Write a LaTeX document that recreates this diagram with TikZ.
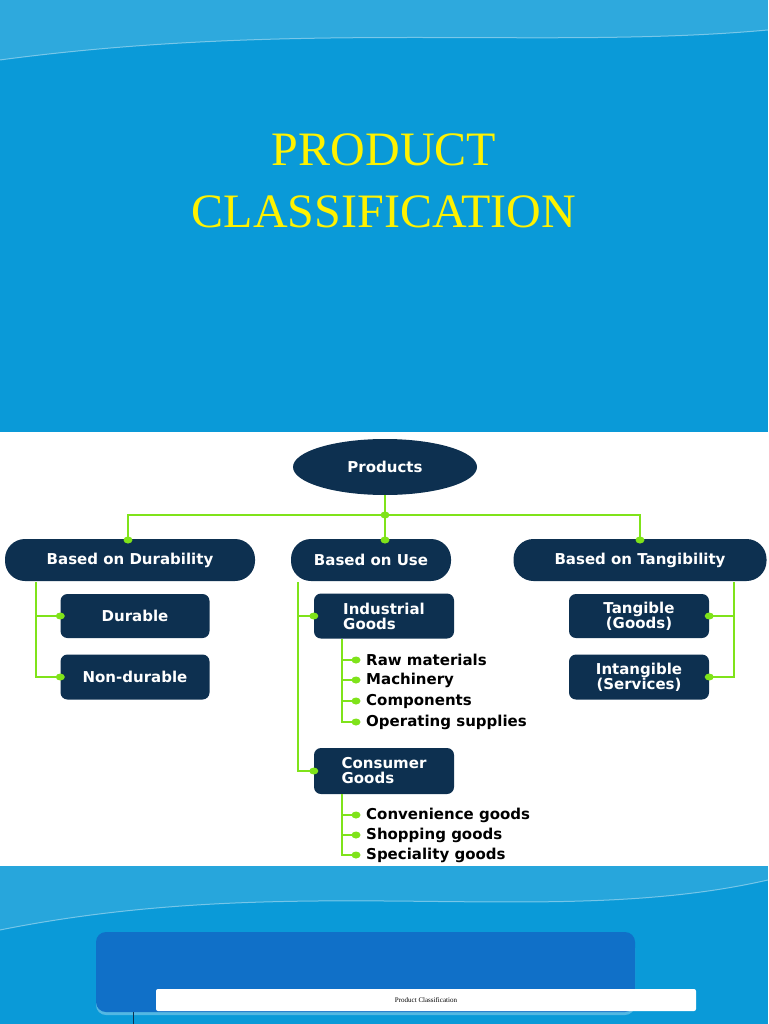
\documentclass[tikz,border=0pt]{standalone}
\usepackage{fontspec}
\setmainfont{Liberation Serif}
\newfontfamily\dia{DejaVu Sans}
\usetikzlibrary{shapes.geometric}
\definecolor{bgblue}{HTML}{0A9AD8}
\definecolor{navy}{HTML}{0D3050}
\definecolor{lgreen}{HTML}{7FE31A}
\definecolor{boxblue}{HTML}{1070C8}
\begin{document}
\begin{tikzpicture}[x=1pt,y=-1pt,
  pill/.style={fill=navy,rounded corners=20pt,text=white,font=\dia\bfseries\fontsize{15}{15}\selectfont,inner sep=0pt},
  sbox/.style={fill=navy,rounded corners=7pt,text=white,font=\dia\bfseries\fontsize{15}{15}\selectfont,inner sep=0pt,align=center},
  item/.style={anchor=west,font=\dia\bfseries\fontsize{15}{16}\selectfont,inner sep=0pt},
  gl/.style={draw=lgreen,line width=2.5pt},
  dot/.style={fill=lgreen,ellipse,minimum width=9pt,minimum height=7pt,inner sep=0pt}]
\useasboundingbox (0,0) rectangle (768,1024);
\fill[bgblue] (0,0) rectangle (768,432);
\fill[white] (0,432) rectangle (768,866);
\fill[bgblue] (0,866) rectangle (768,1024);
% waves
\fill[white,opacity=0.15] (0,0) -- (768,0) -- (768,30) .. controls (550,50) and (300,20) .. (0,60) -- cycle;
\draw[white,opacity=0.4,line width=1pt] (0,60) .. controls (300,20) and (550,50) .. (768,30);
\fill[white,opacity=0.12] (0,866) -- (768,866) -- (768,880) .. controls (550,930) and (300,870) .. (0,930) -- cycle;
\draw[white,opacity=0.4,line width=1pt] (0,930) .. controls (300,870) and (550,930) .. (768,880);
% title
\node[text=yellow,font=\fontsize{48}{62}\selectfont,align=center] (title) at (384,181) {PRODUCT\\CLASSIFICATION};
% tree
\node[fill=navy,ellipse,minimum width=184pt,minimum height=56pt,text=white,font=\dia\bfseries\fontsize{15}{15}\selectfont] (prod) at (385,467) {Products};
\node[pill,minimum width=250pt,minimum height=42pt] (dur) at (130,560) {Based on Durability};
\node[pill,minimum width=160pt,minimum height=42pt] (use) at (371,560) {Based on Use};
\node[pill,minimum width=253pt,minimum height=42pt] (tan) at (640,560) {Based on Tangibility};
\coordinate (j) at (385,515);
\draw[gl] (prod.south) -- (j) -- (385,540);
\draw[gl] (128,540) -- (128,515) -- (640,515) -- (640,540);
\node[dot] at (385,515) {}; \node[dot] at (385,540) {}; \node[dot] at (128,540) {}; \node[dot] at (640,540) {};
\node[sbox,minimum width=149pt,minimum height=44pt] (d1) at (135,616) {Durable};
\node[sbox,minimum width=149pt,minimum height=45pt] (d2) at (135,677) {Non-durable};
\node[sbox,minimum width=140pt,minimum height=45pt,align=left] (ig) at (384,616) {Industrial\\Goods};
\node[sbox,minimum width=140pt,minimum height=46pt,align=left] (cg) at (384,771) {Consumer\\Goods};
\node[sbox,minimum width=140pt,minimum height=44pt] (t1) at (639,616) {Tangible\\(Goods)};
\node[sbox,minimum width=140pt,minimum height=45pt] (t2) at (639,677) {Intangible\\(Services)};
\draw[gl] (36,582) -- (36,677) -- (d2.west); \draw[gl] (36,616) -- (d1.west);
\node[dot] at (d1.west) {}; \node[dot] at (d2.west) {};
\draw[gl] (298,582) -- (298,771) -- (cg.west); \draw[gl] (298,616) -- (ig.west);
\node[dot] at (ig.west) {}; \node[dot] at (cg.west) {};
\draw[gl] (734,582) -- (734,677) -- (t2.east); \draw[gl] (734,616) -- (t1.east);
\node[dot] at (t1.east) {}; \node[dot] at (t2.east) {};
\draw[gl] (342,639) -- (342,722) -- (356,722);
\foreach \y/\t in {660/Raw materials,680/Machinery,701/Components,722/Operating supplies}{
  \draw[gl] (342,\y) -- (356,\y); \node[dot] at (356,\y) {};
  \node[item] at (366,\y) {\t};}
\draw[gl] (342,794) -- (342,855) -- (356,855);
\foreach \y/\t in {815/Convenience goods,835/Shopping goods,855/Speciality goods}{
  \draw[gl] (342,\y) -- (356,\y); \node[dot] at (356,\y) {};
  \node[item] at (366,\y) {\t};}
% bottom
\fill[white,opacity=0.3,rounded corners=10pt] (96,938) rectangle (635,1015);
\fill[boxblue,rounded corners=10pt] (96,932) rectangle (635,1012);
\fill[white,rounded corners=2pt] (156,989) rectangle (696,1011);
\node[font=\fontsize{7}{8}\selectfont] (cap) at (426,1000) {Product Classification};
\draw[navy,line width=0.8pt] (133,1012) -- (133,1024);
\end{tikzpicture}
\end{document}
